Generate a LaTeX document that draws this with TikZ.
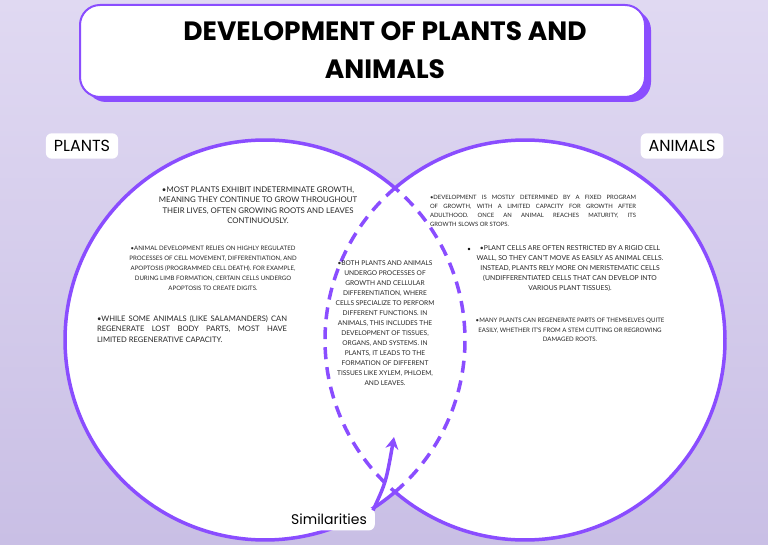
\documentclass[tikz,border=0pt]{standalone}
\usepackage{fontspec}
\setmainfont{Lato}
\newfontfamily\popp{Poppins}
\usetikzlibrary{arrows.meta}
\definecolor{vio}{HTML}{8A4DFF}
\definecolor{bgtop}{HTML}{E0D9F2}
\definecolor{bgbot}{HTML}{C9BFE5}
\newcommand{\jl}[2]{\makebox[#1][s]{#2}}
\begin{document}
\begin{tikzpicture}[x=1pt,y=1pt,
  lab/.style={fill=white,rounded corners=6pt,inner xsep=8pt,inner ysep=7pt,font=\popp\fontsize{16}{18}\selectfont},
  body/.style={align=center,inner sep=0pt,text=black!85},
  ring/.style={line width=3.5pt,draw=vio},
  dring/.style={line width=3.5pt,draw=vio,dash pattern=on 12pt off 8pt}]
\useasboundingbox (0,0) rectangle (768,544);
\shade[top color=bgtop,bottom color=bgbot] (0,0) rectangle (768,544);
% title
\fill[vio,rounded corners=20pt] (86,442) rectangle (651,534);
\draw[vio,line width=2pt,fill=white,rounded corners=20pt] (80,447) rectangle (645,539);
\node[font=\popp\bfseries\fontsize{26.5}{38}\selectfont,align=center] (title) at (385,494) {DEVELOPMENT OF PLANTS AND\\ANIMALS};
% circles
\coordinate (L) at (265,204);
\coordinate (R) at (525,204);
\fill[white] (L) circle[radius=200pt];
\fill[white] (R) circle[radius=200pt];
\draw[ring] (L) ++(49.5:200pt) arc[start angle=49.5,end angle=310.5,radius=200pt];
\draw[ring] (R) ++(-130.5:200pt) arc[start angle=-130.5,end angle=130.5,radius=200pt];
\draw[dring] (L) ++(-49.5:200pt) arc[start angle=-49.5,end angle=49.5,radius=200pt];
\draw[dring] (R) ++(130.5:200pt) arc[start angle=130.5,end angle=229.5,radius=200pt];
% labels
\node[lab] (plants) at (82,398) {PLANTS};
\node[lab] (animals) at (682,398) {ANIMALS};
\node[lab,font=\popp\fontsize{14}{16}\selectfont,inner ysep=6pt] (sim) at (329,25) {Similarities};
\coordinate (tip) at (394,107);
\draw[vio,line width=3.5pt,-{Stealth[length=12pt,width=13pt]}] (sim.north east) ++(-2,-3) .. controls (386,62) .. (tip);
% texts
\node[body,font=\fontsize{7.8}{10.5}\selectfont] (t1) at (258,339) {•MOST PLANTS EXHIBIT INDETERMINATE GROWTH,\\MEANING THEY CONTINUE TO GROW THROUGHOUT\\THEIR LIVES, OFTEN GROWING ROOTS AND LEAVES\\CONTINUOUSLY.};
\node[body,font=\fontsize{6.1}{10}\selectfont] (t2) at (213,276) {•ANIMAL DEVELOPMENT RELIES ON HIGHLY REGULATED\\PROCESSES OF CELL MOVEMENT, DIFFERENTIATION, AND\\APOPTOSIS (PROGRAMMED CELL DEATH). FOR EXAMPLE,\\DURING LIMB FORMATION, CERTAIN CELLS UNDERGO\\APOPTOSIS TO CREATE DIGITS.};
\node[body,align=left,font=\fontsize{7.6}{10.5}\selectfont] (t3) at (192,215) {\jl{190pt}{•WHILE SOME ANIMALS (LIKE SALAMANDERS) CAN}\\\jl{190pt}{REGENERATE LOST BODY PARTS, MOST HAVE}\\LIMITED REGENERATIVE CAPACITY.};
\node[body,font=\fontsize{6.6}{10}\selectfont] (t4) at (385,221) {•BOTH PLANTS AND ANIMALS\\UNDERGO PROCESSES OF\\GROWTH AND CELLULAR\\DIFFERENTIATION, WHERE\\CELLS SPECIALIZE TO PERFORM\\DIFFERENT FUNCTIONS. IN\\ANIMALS, THIS INCLUDES THE\\DEVELOPMENT OF TISSUES,\\ORGANS, AND SYSTEMS. IN\\PLANTS, IT LEADS TO THE\\FORMATION OF DIFFERENT\\TISSUES LIKE XYLEM, PHLOEM,\\AND LEAVES.};
\node[body,align=left,font=\fontsize{5.9}{9.2}\selectfont] (t5) at (533,333) {\jl{206pt}{•DEVELOPMENT IS MOSTLY DETERMINED BY A FIXED PROGRAM}\\\jl{206pt}{OF GROWTH, WITH A LIMITED CAPACITY FOR GROWTH AFTER}\\\jl{206pt}{ADULTHOOD. ONCE AN ANIMAL REACHES MATURITY, ITS}\\GROWTH SLOWS OR STOPS.};
\node[body,font=\fontsize{6.8}{10}\selectfont] (t6) at (570,275) {•PLANT CELLS ARE OFTEN RESTRICTED BY A RIGID CELL\\WALL, SO THEY CAN'T MOVE AS EASILY AS ANIMAL CELLS.\\INSTEAD, PLANTS RELY MORE ON MERISTEMATIC CELLS\\(UNDIFFERENTIATED CELLS THAT CAN DEVELOP INTO\\VARIOUS PLANT TISSUES).};
\fill (469,295) circle[radius=1.3pt];
\node[body,font=\fontsize{6.1}{9.2}\selectfont] (t7) at (570,214) {•MANY PLANTS CAN REGENERATE PARTS OF THEMSELVES QUITE\\EASILY, WHETHER IT'S FROM A STEM CUTTING OR REGROWING\\DAMAGED ROOTS.};
\end{tikzpicture}
\end{document}
